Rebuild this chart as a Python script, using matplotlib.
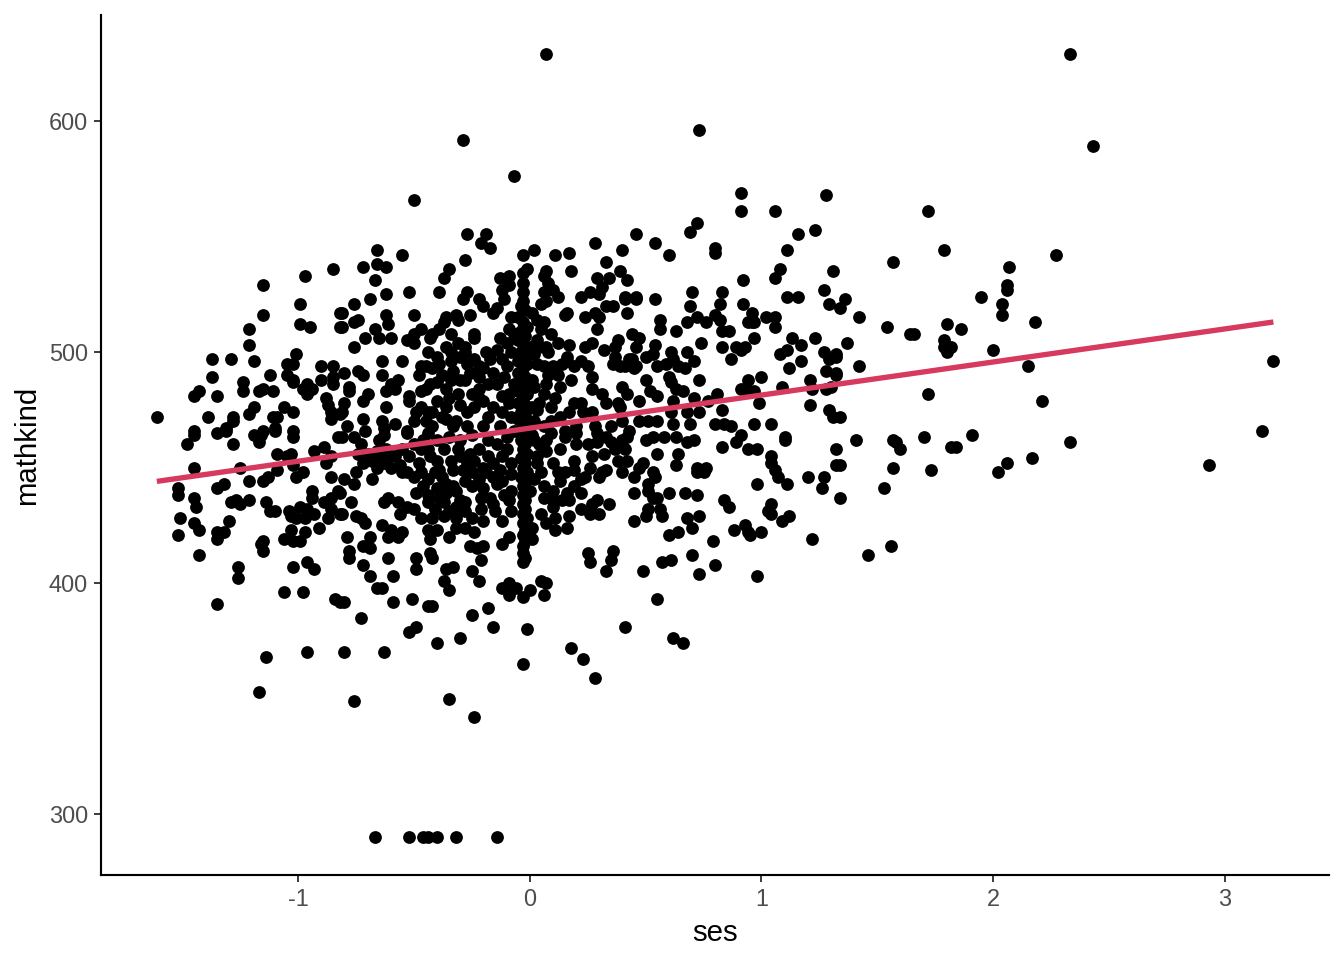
import matplotlib
matplotlib.use("Agg")
import matplotlib.pyplot as plt
import numpy as np

plt.rcParams['font.family'] = ['Liberation Sans', 'DejaVu Sans']

# (ses, mathkind), one list per region
top_points = [(.07,629),(2.33,629),(.73,596),(-.29,592),(2.43,589),(-.07,576),(-.50,566),(.91,569),(.91,561),
    (1.28,568),(1.06,561),(1.72,561),(.72,556),(.69,552)]
far_right = [(1.80,512),(1.86,510),(1.79,505),(1.79,502),(1.82,502),(1.80,500),(2.0,501),(2.15,494),(3.21,496),
    (2.21,479),(1.91,464),(1.82,459),(1.84,459),(2.02,448),(2.06,452),(2.17,454),(2.33,461),(2.93,451),(3.16,466),
    (1.79,544),(2.27,542),(2.07,537),(2.06,529),(2.06,527),(1.95,524),(2.04,521),(2.04,516),(2.18,513)]
bottom_row = [(-.67,290),(-.52,290),(-.46,290),(-.44,290),(-.40,290),(-.32,290),(-.14,290)]
low_points = [(-1.14,368),(-1.17,353),(-.96,370),(-.80,370),(-.63,370),(-.76,349),(-.35,350),(-.24,342),(-.03,365),
    (-.30,376),(-.40,374),(-.01,380),(-.52,379),(-.49,381),(-.16,381),(-.25,386),(-.18,389),(.18,372),(.23,367),
    (.28,359),(.41,381),(.62,376),(.66,374),(.55,393),(-.73,385)]
right_mid = [(1.16,551),(1.23,553),(1.11,544),(1.57,539),(1.08,536),(1.06,532),(1.31,535),(.92,531),(1.27,527),
    (1.11,524),(1.16,524),(1.36,523),(1.29,521),(1.34,519),(.92,521),(.96,517),(.96,513),(.94,513),(.97,513),
    (1.02,515),(1.06,515),(1.06,511),(1.42,515),(1.54,511),(1.64,508),(1.66,508),(.97,506),(1.13,506),(1.17,503),
    (1.23,506),(1.37,504),(.93,502),(.91,501),(1.11,501),(1.08,499),(1.27,500),(1.32,499),(1.29,497),(1.32,498),
    (1.17,496),(1.12,493),(1.42,494),(1.28,492),(1.32,491),(1.32,490),(1.0,489),(.94,488),(1.21,488),(1.09,485),
    (1.22,484),(1.28,484),(1.30,485),(.91,484),(.94,483),(.97,483),(.99,478),(1.21,477),(1.72,482),(1.29,475),
    (1.31,472),(1.34,472),(.97,469),(1.04,469),(1.10,463),(1.10,462),(.91,464),(1.41,462),(1.57,462),(1.58,461),
    (1.60,458),(1.70,463),(.94,458),(.98,458),(1.32,458),(1.04,455),(1.04,452),(1.06,449),(1.07,446),(1.11,443),
    (.98,443),(1.32,451),(1.34,451),(1.57,450),(1.73,449),(1.20,446),(1.27,446),(1.26,441),(1.34,437),(1.53,441),
    (1.04,434),(1.03,431),(1.04,430),(1.12,429),(1.09,427),(.93,425),(.94,422),(.95,421),(1.0,422),(1.22,419),
    (1.46,412),(1.56,416),(.98,403)]
left_upper = [(-.85,536),(-.97,533),(-1.15,529),(-.99,521),(-.82,517),(-1.15,516),(-.99,512),(-.95,511),(-.82,511),
    (-1.21,510),(-1.21,503),(-1.37,497),(-1.29,497),(-1.19,496),(-1.01,499),(-1.05,495),(-1.02,495),(-.90,494),
    (-.85,494),(-1.12,490),(-1.37,489),(-1.05,490),(-1.02,488),(-1.02,487),(-.90,488),(-.85,489),(-1.24,487),
    (-1.24,483),(-1.43,483),(-1.45,481),(-1.35,481),(-1.17,483),(-1.15,484),(-1.11,483),(-.98,484),(-.96,486),
    (-.94,484),(-.96,482),(-.85,486),(-.88,480),(-.87,477),(-.86,474),(-.86,471),(-.82,473),(-1.19,476),(-1.21,473),
    (-1.28,472),(-1.28,470),(-1.31,467),(-1.61,472),(-1.39,472),(-1.11,472),(-1.09,472),(-1.06,476),(-1.02,474),
    (-1.15,466),(-1.10,467),(-1.02,466),(-1.35,465),(-1.45,466)]
left_lower = [(-1.45,464),(-1.48,460),(-1.31,466),(-1.28,460),(-1.19,464),(-1.16,464),(-1.17,461),(-1.10,466),
    (-1.02,463),(-.83,463),(-1.09,456),(-1.05,455),(-1.03,456),(-.93,457),(-.89,459),(-.86,455),(-1.45,450),
    (-1.25,450),(-1.09,449),(-1.02,451),(-.98,448),(-1.01,446),(-.88,452),(-.86,446),(-1.32,443),(-1.35,441),
    (-1.21,444),(-1.15,444),(-1.13,446),(-1.52,441),(-1.52,438),(-1.45,437),(-1.44,433),(-.94,440),(-.94,437),
    (-.83,440),(-.86,437),(-.89,435),(-1.29,435),(-1.27,436),(-1.25,434),(-1.21,436),(-1.14,435),(-1.12,431),
    (-1.10,431),(-1.04,431),(-1.03,429),(-.99,433),(-.96,432),(-.93,430),(-1.01,428),(-.97,428),(-.87,428),
    (-.86,432),(-.82,430),(-.91,424),(-1.51,428),(-1.45,426),(-1.43,423),(-1.52,421),(-1.30,427),(-1.32,422),
    (-1.35,422),(-1.35,419),(-1.03,423),(-.97,422),(-1.06,419),(-1.02,418),(-.99,418),(-1.15,418),(-1.16,417),
    (-1.15,414),(-1.43,412),(-1.26,407),(-1.26,402),(-1.02,407),(-.96,409),(-.93,406),(-1.06,396),(-.98,396),
    (-.84,393),(-1.35,391)]
mid_left_upper = [(-.27,551),(-.19,551),(-.21,547),(-.17,545),(-.66,544),(-.55,542),(-.72,537),(-.66,538),(-.62,537),
    (-.28,540),(-.03,542),(.02,544),(-.35,536),(-.37,532),(-.67,531),(-.13,532),(-.09,533),(-.09,529),(-.12,527),
    (-.11,523),(-.03,534),(-.01,536),(-.03,530),(-.03,526),(-.03,522),(-.62,525),(-.52,526),(-.39,526),(-.27,526),
    (-.29,523),(-.69,523),(-.76,521),(-.22,523),(-.20,520),(-.14,519),(-.16,517),(-.81,517),(-.62,516),(-.61,512),
    (-.50,516),(-.26,516),(-.74,514),(-.76,513),(-.36,515),(-.32,516),(-.31,514),(-.37,513),(.01,517),(.03,514),
    (-.81,511),(-.67,510),(-.47,510),(-.50,508),(-.53,505),(-.50,504),(-.39,510),(-.42,508),(-.43,506),(-.34,508),
    (-.24,508),(-.24,506),(-.09,510),(-.71,506),(-.65,506),(-.60,506),(-.13,506),(-.76,502),(-.31,504),(-.28,502),
    (-.28,500),(-.36,502),(-.40,498),(-.34,500),(-.39,495),(-.34,496),(-.64,496),(-.55,496),(-.19,500),(-.14,501),
    (-.12,497),(-.47,494),(-.45,494),(-.27,495),(-.22,494),(-.26,491),(-.74,492),(-.72,490),(-.80,491),(-.64,490),
    (.02,499),(-.57,488),(-.60,486),(-.62,483),(-.58,484),(-.34,488),(-.28,488),(-.16,491),(-.11,489),(-.20,493),
    (-.78,485),(-.78,483),(-.70,482),(-.72,479),(-.45,484),(-.40,487),(-.36,484),(-.40,479),(-.25,482),(-.22,484),
    (-.20,479),(-.14,486),(-.12,481),(-.09,478),(-.52,481),(-.52,479),(-.80,478),(-.81,474),(-.62,476),(-.47,476),
    (-.49,474),(-.44,474),(-.36,476),(-.30,477),(-.27,474),(-.72,471),(-.64,470),(-.58,469),(-.79,468),(-.71,466),
    (-.63,467),(-.53,466),(-.50,470),(-.42,468),(-.36,471),(-.32,470),(-.27,468),(-.20,468),(-.13,468)]
mid_left_lower = [(-.81,463),(-.76,463),(-.73,460),(-.65,462),(-.63,464),(-.53,465),(-.44,465),(-.72,452),(-.68,453),
    (-.63,452),(-.60,450),(-.66,450),(-.58,455),(-.75,448),(-.80,445),(-.76,443),(-.68,445),(-.82,439),(-.52,455),
    (-.53,448),(-.55,448),(-.48,452),(-.44,458),(-.40,453),(-.37,458),(-.47,448),(-.44,445),(-.46,442),(-.49,439),
    (-.39,449),(-.36,443),(-.32,440),(-.36,439),(-.31,458),(-.33,449),(-.29,449),(-.24,453),(-.20,450),(-.25,448),
    (-.14,443),(-.19,448),(-.13,449),(-.22,445),(-.25,442),(-.77,435),(-.63,435),(-.61,437),(-.57,435),(-.81,430),
    (-.56,430),(-.53,433),(-.50,432),(-.47,428),(-.44,435),(-.41,432),(-.42,428),(-.37,435),(-.32,433),(-.28,435),
    (-.37,429),(-.32,428),(-.21,437),(-.17,437),(-.11,438),(-.21,432),(-.15,431),(-.08,431),(-.25,428),(-.20,427),
    (-.12,427),(-.75,429),(-.73,428),(-.71,426),(-.64,425),(-.60,423),(-.55,422),(-.61,420),(-.57,420),(-.44,423),
    (-.40,423),(-.32,424),(-.28,424),(-.24,422),(-.35,420),(-.79,420),(-.69,420),(-.69,415),(-.72,416),(-.78,414),
    (-.78,411),(-.43,419),(-.43,413),(-.42,411),(-.61,411),(-.26,416),(-.20,416),(-.23,415),(-.21,410),(-.09,420),
    (-.12,417),(-.49,411),(-.49,406),(-.72,408),(-.69,403),(-.59,403),(-.66,398),(-.64,398),(-.33,407),(-.36,406),
    (-.37,401),(-.35,397),(-.25,405),(-.22,401),(-.12,398),(-.09,400),(-.06,398),(-.09,395),(-.03,394),(0,397),
    (-.82,392),(-.80,392),(-.59,392),(-.51,393),(-.44,390),(-.42,390),(.01,424),(.01,419),(-.03,413),(-.03,409)]
ses_column = [(-.04,520),(-.02,518),(-.05,515),(-.03,513),(-.01,511),(-.04,509),(-.02,507),(-.05,505),(-.03,503),
    (.0,502),(-.04,500),(-.02,498),(-.05,496),(-.01,495),(-.03,493),(-.05,491),(-.02,489),(.01,488),(-.04,487),
    (-.02,485),(-.05,483),(-.01,482),(-.03,480),(-.05,478),(-.02,477),(.01,476),(-.04,474),(-.02,473),(-.05,471),
    (-.01,470),(-.03,468),(-.05,466),(-.02,465),(.01,464),(-.04,462),(-.02,460),(-.03,458),(-.01,456),(-.04,454),
    (-.02,452),(-.03,450),(-.01,448),(-.04,446),(-.02,444),(-.03,442),(.0,440),(-.03,438),(-.02,436),(-.03,434),
    (-.02,432),(-.03,430),(-.01,428),(-.03,426),(-.02,423),(-.03,421),(-.02,418),(-.03,416),(-.02,411),(.03,495),
    (.02,485),(.03,475),(.02,462),(.03,455),(.02,445)]
mid_right_upper = [(.46,551),(.28,547),(.54,547),(.40,544),(.80,545),(.80,543),(.11,542),(.17,543),(.60,542),(.33,539),
    (.07,535),(.06,533),(.18,535),(.29,532),(.34,532),(.39,535),(.42,531),(.08,530),(.10,527),(.06,526),(.12,524),
    (.07,522),(.05,521),(.22,524),(.26,526),(.31,528),(.30,525),(.41,524),(.46,524),(.41,523),(.46,523),(.54,523),
    (.70,526),(.83,526),(.69,520),(.82,521),(.33,520),(.36,520),(.42,517),(.16,517),(.15,516),(.24,515),(.28,517),
    (.30,515),(.06,513),(.29,510),(.56,514),(.56,510),(.63,509),(.68,513),(.72,515),(.76,513),(.80,516),(.82,514),
    (.83,509),(.86,509),(.74,504),(.83,502),(.89,502),(.87,497),(.54,503),(.38,505),(.44,508),(.47,506),(.46,502),
    (.37,502),(.37,498),(.36,495),(.39,494),(.43,497),(.44,497),(.46,494),(.41,494),(.45,493),(.50,498),(.53,499),
    (.55,494),(.61,500),(.62,497),(.59,495),(.64,494),(.67,493),(.68,500),(.71,496),(.12,504),(.07,502),(.17,503),
    (.08,500),(.04,502),(.27,504),(.24,502),(.32,501),(.16,498),(.16,496),(.19,494),(.22,496),(.25,494),(.06,494),
    (.10,494),(.18,488),(.27,489),(.27,484),(.31,482),(.33,478),(.50,488),(.60,489),(.61,487),(.63,484),(.66,483),
    (.73,488),(.40,485),(.42,482),(.52,483),(.55,481),(.47,479),(.81,482),(.77,479),(.71,480),(.62,479),(.07,486),
    (.13,485),(.06,482),(.11,480),(.09,476),(.19,478),(.22,478),(.17,474),(.23,474),(.27,474),(.38,478),(.39,476),
    (.83,475),(.61,474),(.68,474),(.73,474),(.47,470),(.51,470),(.55,470),(.62,469),(.69,469),(.80,469),(.84,469),
    (.87,468),(.35,468),(.40,470),(.43,466),(.28,468),(.20,468)]
mid_right_lower = [(.09,465),(.15,463),(.20,465),(.29,465),(.29,461),(.20,460),(.35,461),(.40,462),(.42,463),(.41,458),
    (.50,462),(.53,463),(.58,463),(.63,463),(.68,461),(.71,462),(.83,459),(.89,461),(.55,456),(.64,456),(.63,451),
    (.72,450),(.76,450),(.72,448),(.75,448),(.07,457),(.13,458),(.19,453),(.27,455),(.32,456),(.26,450),(.38,453),
    (.42,453),(.40,448),(.12,448),(.15,448),(.19,449),(.31,448),(.30,446),(.49,452),(.47,450),(.45,446),(.53,448),
    (.54,446),(.51,443),(.51,440),(.05,448),(.06,442),(.22,445),(.19,442),(.10,440),(.06,437),(.10,436),(.16,439),
    (.17,436),(.22,439),(.45,439),(.60,439),(.67,439),(.72,438),(.55,437),(.53,437),(.84,436),(.86,433),(.29,436),
    (.34,434),(.27,434),(.22,432),(.26,430),(.30,430),(.10,433),(.11,428),(.17,429),(.11,423),(.16,424),(.51,432),
    (.50,429),(.45,427),(.56,432),(.57,429),(.68,428),(.70,424),(.73,429),(.60,421),(.64,422),(.79,418),(.88,423),
    (.25,413),(.26,409),(.36,414),(.35,410),(.33,405),(.49,405),(.57,409),(.61,410),(.70,412),(.80,408),(.73,404),
    (.05,401),(.07,400),(.06,395)]
# overlapping blobs in the dense middle, harder to separate by eye
dense_lower = [(-.62,458),(-.66,457),(-.70,456),(-.74,456),(-.64,454),(-.60,455),(-.56,451),(-.55,458),(-.50,460),
    (-.47,458),(-.43,455),(-.41,448),(-.38,446),(-.34,453),(-.30,455),(-.27,452),(-.26,456),(-.22,458),(-.18,455),
    (-.16,452),(-.12,455),(-.10,458),(-.08,452),(-.18,462),(-.14,460),(-.10,463),(-.07,466),(-.25,464),(-.30,462),
    (-.35,463),(-.40,462),(-.46,462),(-.50,446),(-.44,438),(-.40,441),(-.35,431),(-.30,436),(-.33,442),(-.28,444),
    (-.20,441),(-.16,446),(-.12,444),(-.08,447),(-.08,440),(-.09,436),(-.16,434),(-.28,431),(-.39,437)]
dense_upper = [(-.44,500),(-.42,493),(-.38,490),(-.33,492),(-.30,488),(-.31,482),(-.35,480),(-.43,486),(-.48,490),
    (-.47,483),(-.30,498),(-.24,497),(-.22,489),(-.18,486),(-.17,497),(-.10,494),(-.08,500),(-.07,486),(-.09,482),
    (-.08,472),(-.12,474),(-.16,476),(-.18,472),(-.24,476),(-.22,480),(-.10,504),(-.07,508),(-.08,515),(-.42,474),
    (-.38,472),(-.33,468),(-.45,470)]
dense_right = [(.09,470),(.13,472),(.15,466),(.02,470),(.06,468),(.04,460),(.03,452),(.10,452),(.07,462),(.25,460),
    (.33,463),(.37,458),(.33,449),(.24,446),(.13,444),(.14,436),(.05,430),(.07,426),(.08,490),(.04,478),(.12,490),
    (.03,505),(.05,510),(.09,508),(.14,495)]

# fitted line ends
line_ses = [-1.61, 3.21]
line_mathkind = [444, 513]

x_ticks = [-1, 0, 1, 2, 3]
y_ticks = [300, 400, 500, 600]

regions = [top_points, far_right, bottom_row, low_points, right_mid, left_upper, left_lower, mid_left_upper,
           mid_left_lower, ses_column, mid_right_upper, mid_right_lower, dense_lower, dense_upper, dense_right]
pts = np.array([p for r in regions for p in r])

fig = plt.figure(figsize=(7, 5), dpi=192)
ax = fig.add_axes([101/1344, 85/960, 1227.5/1344, 860/960])

ax.scatter(pts[:, 0], pts[:, 1], s=23, c='black', linewidths=0, zorder=2, clip_on=False)
ax.plot(line_ses, line_mathkind, color='#D63A5E', lw=2.0, solid_capstyle='butt', zorder=3)

ax.set_xlim(-1.851, 3.448)
ax.set_ylim(273.6, 645.9)
ax.set_xticks(x_ticks)
ax.set_xticklabels(['-1', '0', '1', '2', '3'])
ax.set_yticks(y_ticks)
ax.tick_params(length=2.75, width=0.7, color='#333333', labelcolor='#4D4D4D', labelsize=8.8, pad=2.2)

ax.spines['top'].set_visible(False)
ax.spines['right'].set_visible(False)
ax.spines['left'].set_linewidth(0.8)
ax.spines['bottom'].set_linewidth(0.8)

ax.set_xlabel('ses', fontsize=11, labelpad=2.75)
ax.set_ylabel('mathkind', fontsize=11, labelpad=2.75)

fig.savefig('out.png', dpi=192)
